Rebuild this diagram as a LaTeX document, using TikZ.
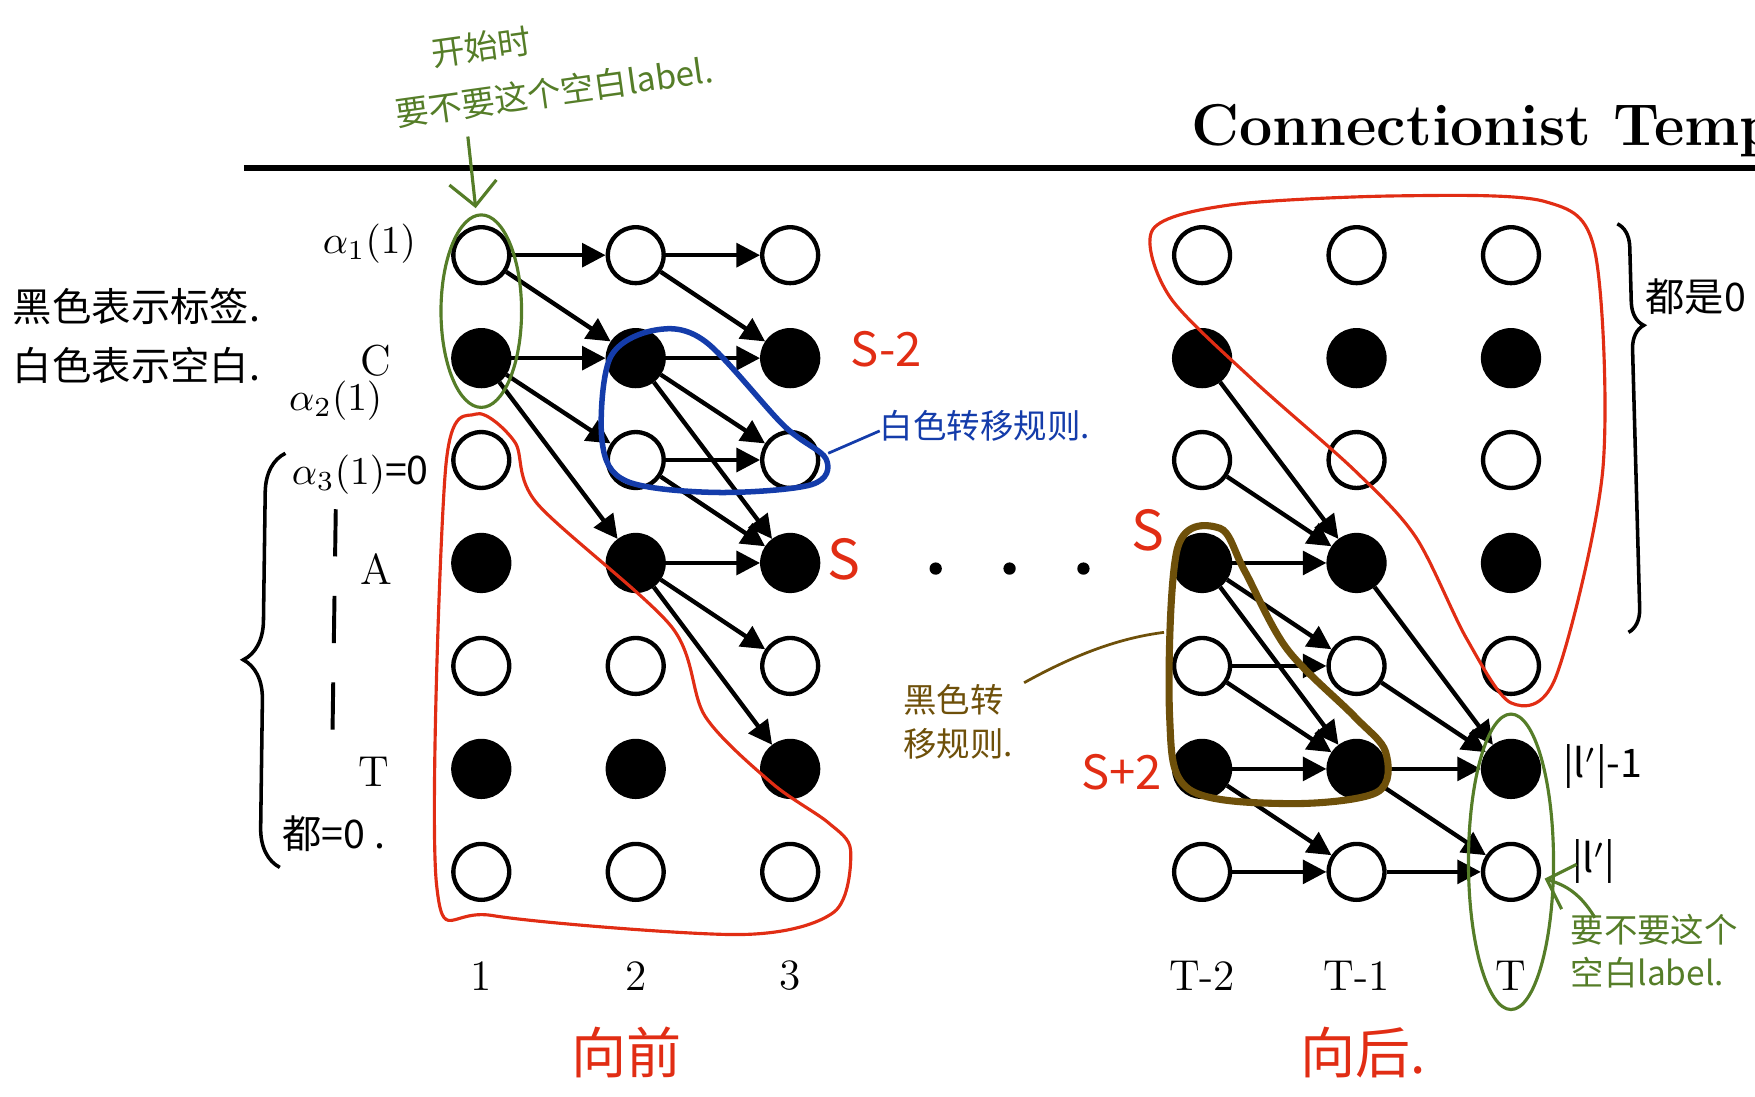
\documentclass[tikz,border=0pt]{standalone}
\usepackage{fontspec}
\newfontfamily\cjk{Noto Sans CJK SC}
\usetikzlibrary{arrows.meta,decorations.pathreplacing}
\definecolor{hred}{RGB}{225,45,20}
\definecolor{hgreen}{RGB}{85,125,40}
\definecolor{hblue}{RGB}{20,60,170}
\definecolor{hbrown}{RGB}{110,80,10}
\tikzset{
 st/.style={circle,draw,line width=1.1pt,minimum size=14.2pt,inner sep=0pt},
 wst/.style={st,fill=white},
 bst/.style={st,fill=black},
 ar/.style={line width=1.1pt,-{Triangle[length=6pt,width=6pt]}},
 lab/.style={font=\fontsize{11}{13}\selectfont},
 hand/.style={font=\cjk\fontsize{8.5}{11}\selectfont,align=left},
 ink/.style={line width=0.8pt},
}
\begin{document}
\begin{tikzpicture}[x=0.01cm,y=-0.01cm]
\useasboundingbox (0,0) rectangle (1568,980);
\draw[line width=1.4pt] (218,150) -- (1568,150);
\node[anchor=west,font=\bfseries\fontsize{15}{18}\selectfont] (title) at (1052,117) {Connectionist Temporal};
% states
\foreach \c/\x in {a/430,b/568,c/706,d/1074,e/1212,f/1350}{
 \foreach \r/\y in {1/228,3/411,5/595,7/779}{\node[wst] (\c\r) at (\x,\y) {};}
 \foreach \r/\y in {2/320,4/503,6/687}{\node[bst] (\c\r) at (\x,\y) {};}
}
\foreach \s/\t in {a1/b1,a1/b2,a2/b2,a2/b3,a2/b4,b1/c1,b1/c2,b2/c2,b2/c3,b2/c4,b3/c3,b3/c4,b4/c4,b4/c5,b4/c6,
 d2/e4,d3/e4,d4/e4,d4/e5,d4/e6,d5/e5,d5/e6,d6/e6,d6/e7,d7/e7,e4/f6,e5/f6,e6/f6,e6/f7,e7/f7}
 \draw[ar] (\s) -- (\t);
% labels
\node[lab] (lC) at (336,322) {C};
\node[lab] (lA) at (336,508) {A};
\node[lab] (lT) at (334,690) {T};
\foreach \n/\x/\t in {n1/430/1,n2/568/2,n3/706/3,n4/1074/T-2,n5/1212/T-1,n6/1350/T}
 \node[lab] (\n) at (\x,872) {\t};
\foreach \n/\x in {p1/836,p2/902,p3/968} \fill (\x,508) circle (5.5);
\draw[line width=1pt,dash pattern=on 12pt off 10pt] (300,455) -- (297,660);
\draw[line width=0.9pt,decorate,decoration={brace,amplitude=10pt}] (250,775) -- (255,405);
\draw[line width=0.9pt,decorate,decoration={brace,amplitude=6pt,aspect=0.25}] (1445,200) -- (1455,565);
% handwritten black
\node[hand,font=\cjk\fontsize{10}{15}\selectfont] (hb) at (122,300) {黑色表示标签.\\白色表示空白.};
\node[hand,font=\cjk\fontsize{10}{12}\selectfont] (a1) at (330,218) {$\alpha_1(1)$};
\node[hand,font=\cjk\fontsize{10}{12}\selectfont] (a2) at (300,358) {$\alpha_2(1)$};
\node[hand,font=\cjk\fontsize{10}{12}\selectfont] (a3) at (322,424) {$\alpha_3(1)$=0};
\node[hand,font=\cjk\fontsize{10}{12}\selectfont] (dou) at (298,745) {都=0 .};
\node[hand,font=\cjk\fontsize{10}{12}\selectfont] (dou2) at (1515,265) {都是0};
\node[hand,font=\cjk\fontsize{10}{12}\selectfont] (ll1) at (1432,685) {|l$'$|-1};
\node[hand,font=\cjk\fontsize{10}{12}\selectfont] (ll) at (1424,770) {|l$'$|};
% red
\node[hand,text=hred,font=\cjk\fontsize{12}{14}\selectfont] (s2) at (792,312) {S-2};
\node[hand,text=hred,font=\cjk\fontsize{14}{14}\selectfont] (s) at (754,500) {S};
\node[hand,text=hred,font=\cjk\fontsize{14}{14}\selectfont] (s0) at (1026,474) {S};
\node[hand,text=hred,font=\cjk\fontsize{12}{14}\selectfont] (sp2) at (1002,690) {S+2};
\node[hand,text=hred,font=\cjk\fontsize{14}{14}\selectfont] (fw) at (560,940) {向前};
\node[hand,text=hred,font=\cjk\fontsize{14}{14}\selectfont] (bw) at (1218,940) {向后.};
\draw[hred,ink] plot[smooth cycle,tension=0.5] coordinates {(425,370) (398,420) (390,790) (440,818) (660,835) (745,815) (760,760) (740,735) (690,700) (630,640) (600,560) (480,450) (460,395)};
\draw[hred,ink] plot[smooth cycle,tension=0.5] coordinates {(1100,183) (1030,205) (1045,265) (1120,340) (1210,420) (1265,480) (1310,570) (1350,628) (1390,605) (1432,420) (1425,225) (1380,180) (1250,175)};
% green
\draw[hgreen,ink] (430,278) ellipse (36 and 86);
\draw[hgreen,ink] (1350,770) ellipse (38 and 132);
\node[hand,text=hgreen,rotate=8] (g1a) at (430,42) {开始时};
\node[hand,text=hgreen,rotate=8] (g1b) at (495,82) {要不要这个空白label.};
\draw[hgreen,ink,-{Straight Barb[length=6pt]}] (418,122) -- (425,186);
\node[hand,text=hgreen] (g2) at (1478,850) {要不要这个\\空白label.};
\draw[hgreen,ink,-{Straight Barb[length=6pt]}] (1425,820) .. controls (1410,795) and (1395,790) .. (1380,785);
% blue
\draw[hblue,line width=1.4pt] plot[smooth cycle,tension=0.55] coordinates {(585,295) (630,305) (700,380) (738,410) (725,433) (640,440) (560,430) (538,395) (545,320)};
\node[hand,text=hblue] (bl) at (880,380) {白色转移规则.};
\draw[hblue,line width=0.7pt] (740,405) -- (786,385);
% brown
\draw[hbrown,line width=1.8pt] plot[smooth cycle,tension=0.55] coordinates {(1090,472) (1052,490) (1045,640) (1062,705) (1150,718) (1230,708) (1238,672) (1210,640) (1150,580) (1112,510)};
\node[hand,text=hbrown] (br) at (856,645) {黑色转\\移规则.};
\draw[hbrown,line width=0.7pt] (915,610) .. controls (960,585) and (1000,570) .. (1040,565);
\end{tikzpicture}
\end{document}
